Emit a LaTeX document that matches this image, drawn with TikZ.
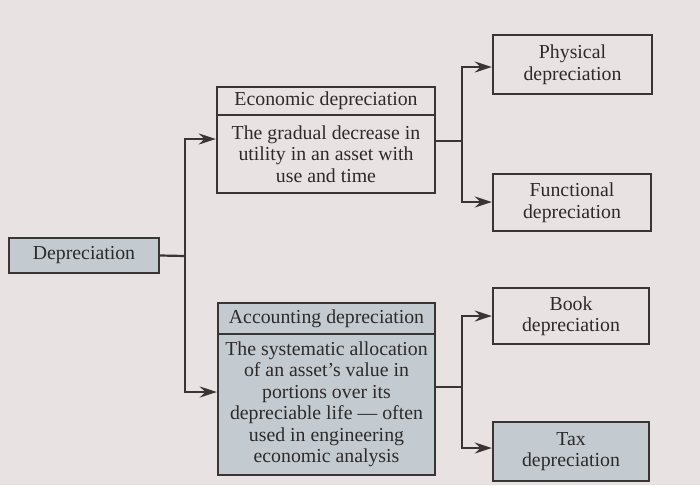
\documentclass[tikz,border=0pt]{standalone}
\usepackage{fontspec}
\setmainfont{Liberation Serif}
\usetikzlibrary{arrows.meta}
\definecolor{bg}{HTML}{E9E2E2}
\definecolor{boxfill}{HTML}{C3CBD0}
\definecolor{ink}{HTML}{3A3432}
\definecolor{txt}{HTML}{2E2A2A}
\tikzset{
  x=1pt, y=-1pt,
  box/.style={draw=ink, line width=2.4pt, inner sep=0pt, align=center, text=txt,
    font=\fontsize{19.8}{21.5}\selectfont},
  grey/.style={box, fill=boxfill},
  white/.style={box, fill=none},
  conn/.style={draw=ink, line width=2.2pt},
  arr/.style={conn, -{Stealth[length=17pt,width=11pt]}},
}
\begin{document}
\begin{tikzpicture}
\fill[bg] (0,0) rectangle (700,485);
\useasboundingbox (0,0) rectangle (700,485);
% boxes
\node[grey, minimum width=150pt, minimum height=35pt] (dep) at (84,255.5) {Depreciation};
\node[white, minimum width=218pt, minimum height=28pt] (econH) at (326,101) {Economic depreciation};
\node[white, minimum width=218pt, minimum height=78pt] (econB) at (326,154) {The gradual decrease in\\utility in an asset with\\use and time};
\node[grey, minimum width=217pt, minimum height=31pt] (accH) at (326.5,318.5) {Accounting depreciation};
\node[grey, minimum width=217pt, minimum height=141pt] (accB) at (326.5,404.5) {The systematic allocation\\of an asset’s value in\\portions over its\\depreciable life — often\\used in engineering\\economic analysis};
\node[white, minimum width=159pt, minimum height=59pt] (phys) at (572.5,64.5) {Physical\\depreciation};
\node[white, minimum width=158pt, minimum height=57pt] (func) at (572,202.5) {Functional\\depreciation};
\node[white, minimum width=156pt, minimum height=56pt] (book) at (571,316) {Book\\depreciation};
\node[grey, minimum width=156pt, minimum height=59pt] (tax) at (571,451.5) {Tax\\depreciation};
% connector points
\coordinate (s) at (185,256);
\coordinate (ea) at (econB.west |- 0,139);
\coordinate (aa) at (accB.west |- 0,392);
\coordinate (eo) at (econB.east |- 0,141);
\coordinate (es) at (462,141);
\coordinate (ao) at (accB.east |- 0,387);
\coordinate (as) at (462,387);
\coordinate (pa) at (phys.west |- 0,67);
\coordinate (fa) at (func.west |- 0,202);
\coordinate (ba) at (book.west |- 0,316);
\coordinate (ta) at (tax.west |- 0,448);
% connectors
\draw[conn] (dep.east) -- (s);
\draw[arr] (s) |- (ea);
\draw[arr] (s) |- (aa);
\draw[conn] (eo) -- (es);
\draw[arr] (es) |- (pa);
\draw[arr] (es) |- (fa);
\draw[conn] (ao) -- (as);
\draw[arr] (as) |- (ba);
\draw[arr] (as) |- (ta);
\end{tikzpicture}
\end{document}
